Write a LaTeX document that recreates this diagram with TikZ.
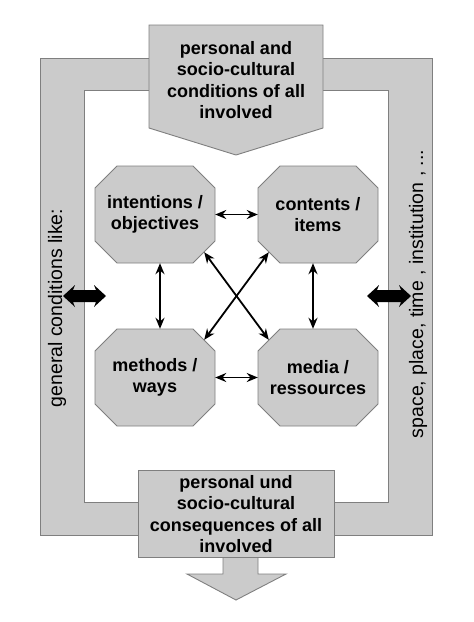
\documentclass[tikz,border=0pt]{standalone}
\usepackage{fontspec}
\setmainfont{Liberation Sans}
\usetikzlibrary{arrows.meta,calc}
\definecolor{boxgray}{HTML}{CBCBCB}
\definecolor{edgegray}{HTML}{7F7F7F}
\tikzset{
  shapebox/.style={fill=boxgray,draw=edgegray,line width=0.9pt,line join=miter},
  lbl/.style={font=\fontsize{18}{21.5}\selectfont\bfseries,align=center,inner sep=0pt},
  link/.style={{Stealth[length=11pt,width=9pt]}-{Stealth[length=11pt,width=9pt]},line width=1.8pt},
  sidetext/.style={font=\fontsize{19.5}{22}\selectfont,rotate=90,inner sep=0pt}
}
\newcommand\octnode[3]{%
  \draw[shapebox] ($(#2)+(-38,-48.5)$) -- ($(#2)+(38,-48.5)$) -- ($(#2)+(60,-26.5)$)
    -- ($(#2)+(60,26.5)$) -- ($(#2)+(38,48.5)$) -- ($(#2)+(-38,48.5)$)
    -- ($(#2)+(-60,26.5)$) -- ($(#2)+(-60,-26.5)$) -- cycle;
  \node[lbl,minimum width=120pt,minimum height=97pt] (#1) at (#2) {#3};
}
% fat double arrow centred at #1, total length 2*#2
\newcommand\fatarrow[2]{%
  \fill[black] ($(#1)+(-#2,0)$) -- ($(#1)+(-#2+12,-11)$) -- ($(#1)+(-#2+10,-6)$)
    -- ($(#1)+(#2-10,-6)$) -- ($(#1)+(#2-12,-11)$) -- ($(#1)+(#2,0)$)
    -- ($(#1)+(#2-12,11)$) -- ($(#1)+(#2-10,6)$) -- ($(#1)+(-#2+10,6)$)
    -- ($(#1)+(-#2+12,11)$) -- cycle;
}
\begin{document}
\begin{tikzpicture}[x=1pt,y=-1pt]
\useasboundingbox (0,0) rectangle (474,622);
% frame
\draw[shapebox,even odd rule] (40,58) rectangle (432,535) (84,90) rectangle (388,502);
% top box
\draw[shapebox] (149,25) -- (323,25) -- (323,128) -- (236,155) -- (149,128) -- cycle;
\node[lbl] (top) at (236,80) {personal and\\socio-cultural\\conditions of all\\involved};
% bottom arrow and box
\draw[shapebox] (223,557) -- (223,574) -- (187,574) -- (236,600) -- (286,574) -- (258,574) -- (258,557) -- cycle;
\draw[shapebox] (138,470) rectangle (334,557);
\node[lbl] (bottom) at (236,514) {personal und\\socio-cultural\\consequences of all\\involved};
% octagons
\coordinate (ctl) at (155,214.5);
\coordinate (ctr) at (318,214.5);
\coordinate (cbl) at (155,377.5);
\coordinate (cbr) at (318,377.5);
\octnode{tl}{ctl}{intentions /\\objectives}
\octnode{tr}{ctr}{contents /\\items}
\octnode{bl}{cbl}{methods /\\ways}
\octnode{br}{cbr}{media /\\ressources}
% connectors
\draw[link] (tl.east) -- (tr.west);
\draw[link] (bl.east) -- (br.west);
\draw[link] ($(tl.south)+(5,0)$) -- ($(bl.north)+(5,0)$);
\draw[link] ($(tr.south)+(-5,0)$) -- ($(br.north)+(-5,0)$);
\draw[link] ($(tl.south east)+(-11,-11)$) -- ($(br.north west)+(11,11)$);
\draw[link] ($(tr.south west)+(11,-11)$) -- ($(bl.north east)+(-11,11)$);
% fat arrows
\coordinate (larrow) at (84.5,296);
\coordinate (rarrow) at (389,296);
\fatarrow{larrow}{21.5}
\fatarrow{rarrow}{22}
% side texts
\node[sidetext] (ltext) at (57,308) {general conditions like:};
\node[sidetext] (rtext) at (418,294) {space, place, time , institution , ...};
\end{tikzpicture}
\end{document}
